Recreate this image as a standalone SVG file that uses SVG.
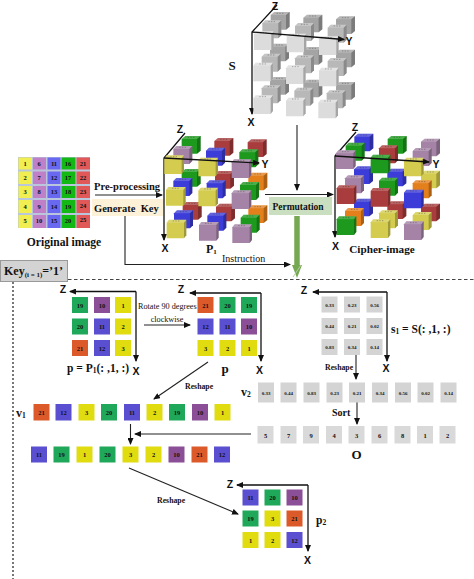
<svg xmlns="http://www.w3.org/2000/svg" width="474" height="579" viewBox="0 0 474 579">
<style>
text{font-family:"Liberation Serif","Times New Roman",serif;fill:#111}
.b{font-weight:bold}
.l{font-weight:bold;font-size:11.5px}
.c{font-weight:bold;font-size:6.5px;text-anchor:middle}
.s{font-weight:bold;font-size:5px;text-anchor:middle}
.a{font-family:"Liberation Sans",Arial,sans-serif;font-size:10.5px;font-weight:bold;text-anchor:middle;fill:#111}
.ln{fill:none;stroke:#222;stroke-width:1.1}
.ax{fill:none;stroke:#111;stroke-width:1.3}
.d{stroke:#222;stroke-width:2.5;stroke-dasharray:4 4;opacity:.4;fill:none}
.yc{fill:#d4cc4e}.pc{fill:#a483a6}.bc{fill:#3c3cd8}.gc{fill:#1d9a1d}.rc{fill:#a93c3c}.oc{fill:#e4801c}
.g0{fill:#dcdcdc}.g1{fill:#b8b8b8}.g2{fill:#a4a4a4}
.Y{fill:#e0dc10}.P{fill:#8a4f96}.B{fill:#5a4fd0}.G{fill:#1fa859}.O{fill:#dc5a2a}.S{fill:#d4d4d4}.T{fill:#d9d9d9}
.oy{fill:#f0ee50}.op{fill:#c080c8}.ob{fill:#6868f0}.og{fill:#14b814}.or{fill:#e05858}
</style>
<defs>
<g id="c0">
<polygon points="0,0 7,-9 59,-9 59,38 52,47 0,47"/>
<polygon points="0,0 7,-9 59,-9 52,0" fill="#fff" opacity=".2"/>
<polygon points="52,0 59,-9 59,38 52,47" fill="#000" opacity=".25"/>
<path class="d" d="M18,-5h20"/>
</g>
<g id="c1">
<polygon points="0,0 9,-9 57,-9 57,36 48,45 0,45"/>
<polygon points="0,0 9,-9 57,-9 48,0" fill="#fff" opacity=".2"/>
<polygon points="48,0 57,-9 57,36 48,45" fill="#000" opacity=".25"/>
<path class="d" d="M18,-5h20"/>
</g>
<g id="c2">
<polygon points="0,0 11,-9 57,-9 57,35 46,44 0,44"/>
<polygon points="0,0 11,-9 57,-9 46,0" fill="#fff" opacity=".2"/>
<polygon points="46,0 57,-9 57,35 46,44" fill="#000" opacity=".25"/>
<path class="d" d="M18,-5h20"/>
</g>
<marker id="m" markerWidth="7" markerHeight="6" refX="6" refY="3" orient="auto" markerUnits="userSpaceOnUse"><path d="M0,0L7,3L0,6z" fill="#111"/></marker>
</defs>

<g id="original-image">
<rect x="18" y="157" width="72" height="71" fill="#b9c6dc"/>
<rect class="oy" x="18.5" y="157.500" width="13.500" height="12"/><rect class="op" x="33" y="157.500" width="13" height="12"/><rect class="ob" x="47.500" y="157.500" width="13" height="12"/><rect class="og" x="61.500" y="157.500" width="14" height="12"/><rect class="or" x="76.500" y="157.500" width="13.500" height="12"/>
<rect class="oy" x="18.5" y="171.500" width="13.500" height="12.500"/><rect class="op" x="33" y="171.500" width="13" height="12.500"/><rect class="ob" x="47.500" y="171.500" width="13" height="12.500"/><rect class="og" x="61.500" y="171.500" width="14" height="12.500"/><rect class="or" x="76.500" y="171.500" width="13.500" height="12.500"/>
<rect class="oy" x="18.5" y="186" width="13.500" height="12"/><rect class="op" x="33" y="186" width="13" height="12"/><rect class="ob" x="47.500" y="186" width="13" height="12"/><rect class="og" x="61.500" y="186" width="14" height="12"/><rect class="or" x="76.500" y="186" width="13.500" height="12"/>
<rect class="oy" x="18.5" y="200" width="13.500" height="13"/><rect class="op" x="33" y="200" width="13" height="13"/><rect class="ob" x="47.500" y="200" width="13" height="13"/><rect class="og" x="61.500" y="200" width="14" height="13"/><rect class="or" x="76.500" y="200" width="13.500" height="13"/>
<rect class="oy" x="18.5" y="215" width="13.500" height="13"/><rect class="op" x="33" y="215" width="13" height="13"/><rect class="ob" x="47.500" y="215" width="13" height="13"/><rect class="og" x="61.500" y="215" width="14" height="13"/><rect class="or" x="76.500" y="215" width="13.500" height="13"/>
<text class="c" x="25" y="166">1</text><text class="c" x="39" y="166">6</text><text class="c" x="54" y="166">11</text><text class="c" x="68" y="166">16</text><text class="c" x="83" y="166">21</text>
<text class="c" x="25" y="180">2</text><text class="c" x="39" y="180">7</text><text class="c" x="54" y="180">12</text><text class="c" x="68" y="180">17</text><text class="c" x="83" y="180">22</text>
<text class="c" x="25" y="194">3</text><text class="c" x="39" y="194">8</text><text class="c" x="54" y="194">13</text><text class="c" x="68" y="194">18</text><text class="c" x="83" y="194">23</text>
<text class="c" x="25" y="209">4</text><text class="c" x="39" y="209">9</text><text class="c" x="54" y="209">14</text><text class="c" x="68" y="209">19</text><text class="c" x="83" y="208">24</text>
<text class="c" x="25" y="223">5</text><text class="c" x="39" y="223">10</text><text class="c" x="54" y="223">15</text><text class="c" x="68" y="223">20</text><text class="c" x="83" y="222">25</text>
<text class="b" x="64" y="246" font-size="11.600" text-anchor="middle">Original image</text>
</g>

<g id="s-cube">
<path class="ax" d="M277,5L252,32V114" marker-end="url(#m)"/>
<g transform="translate(245,0) scale(.3333)">
<use href="#c2" class="g2" x="77" y="45"/><use href="#c2" class="g2" x="175" y="53"/><use href="#c2" class="g2" x="273" y="58"/>
<use href="#c2" class="g2" x="75" y="140"/><use href="#c2" class="g2" x="175" y="150"/><use href="#c2" class="g2" x="273" y="158"/>
<use href="#c2" class="g2" x="75" y="240"/><use href="#c2" class="g2" x="175" y="248"/><use href="#c2" class="g2" x="273" y="255"/>
<use href="#c1" class="g1" x="52" y="70"/><use href="#c1" class="g1" x="150" y="78"/><use href="#c1" class="g1" x="248" y="83"/>
<use href="#c1" class="g1" x="50" y="170"/><use href="#c1" class="g1" x="150" y="175"/><use href="#c1" class="g1" x="248" y="183"/>
<use href="#c1" class="g1" x="50" y="265"/><use href="#c1" class="g1" x="148" y="272"/><use href="#c1" class="g1" x="245" y="280"/>
<use href="#c0" class="g0" x="27" y="103"/><use href="#c0" class="g0" x="125" y="110"/><use href="#c0" class="g0" x="222" y="118"/>
<use href="#c0" class="g0" x="25" y="197"/><use href="#c0" class="g0" x="123" y="205"/><use href="#c0" class="g0" x="222" y="212"/>
<use href="#c0" class="g0" x="25" y="295"/><use href="#c0" class="g0" x="123" y="302"/><use href="#c0" class="g0" x="220" y="308"/>
</g>
<path class="ax" d="M252,32L344,39.500" marker-end="url(#m)"/>
<text class="a" x="275" y="10">Z</text><text class="a" x="349" y="45">Y</text><text class="a" x="251" y="126">X</text>
<text class="b" x="232" y="70" font-size="13" text-anchor="middle">S</text>
</g>

<g id="p1-cube">
<path class="ax" d="M185,133L164,158V240" marker-end="url(#m)"/>
<g transform="translate(155,125) scale(.3333)">
<use href="#c2" class="gc" x="80" y="42"/><use href="#c2" class="rc" x="178" y="48"/><use href="#c2" class="rc" x="278" y="52"/>
<use href="#c2" class="gc" x="80" y="141"/><use href="#c2" class="rc" x="180" y="147"/><use href="#c2" class="oc" x="280" y="152"/>
<use href="#c2" class="rc" x="83" y="240"/><use href="#c2" class="rc" x="183" y="245"/><use href="#c2" class="oc" x="280" y="250"/>
<use href="#c1" class="pc" x="55" y="72"/><use href="#c1" class="bc" x="153" y="77"/><use href="#c1" class="gc" x="253" y="82"/>
<use href="#c1" class="bc" x="55" y="168"/><use href="#c1" class="bc" x="155" y="175"/><use href="#c1" class="gc" x="255" y="180"/>
<use href="#c1" class="bc" x="57" y="265"/><use href="#c1" class="bc" x="157" y="272"/><use href="#c1" class="gc" x="257" y="278"/>
<use href="#c0" class="yc" x="28" y="100"/><use href="#c0" class="yc" x="130" y="107"/><use href="#c0" class="pc" x="230" y="112"/>
<use href="#c0" class="yc" x="33" y="195"/><use href="#c0" class="yc" x="130" y="197"/><use href="#c0" class="pc" x="230" y="205"/>
<use href="#c0" class="yc" x="35" y="293"/><use href="#c0" class="pc" x="132" y="300"/><use href="#c0" class="pc" x="232" y="307"/>
</g>
<path class="ax" d="M164,158L259,163" marker-end="url(#m)"/>
<text class="a" x="180" y="133">Z</text><text class="a" x="265" y="168">Y</text><text class="a" x="165" y="252">X</text>
<text class="b" x="206" y="253" font-size="12">P<tspan font-size="7" dy="1">1</tspan></text>
</g>

<g id="cipher-cube">
<path class="ax" d="M356,132L335,156V237" marker-end="url(#m)"/>
<g transform="translate(330,125) scale(.3333)">
<use href="#c2" class="bc" x="73" y="35"/><use href="#c2" class="gc" x="173" y="42"/><use href="#c2" class="pc" x="273" y="50"/>
<use href="#c2" class="bc" x="72" y="133"/><use href="#c2" class="bc" x="172" y="140"/><use href="#c2" class="yc" x="273" y="146"/>
<use href="#c2" class="bc" x="72" y="230"/><use href="#c2" class="rc" x="172" y="238"/><use href="#c2" class="rc" x="273" y="245"/>
<use href="#c1" class="gc" x="47" y="62"/><use href="#c1" class="rc" x="147" y="70"/><use href="#c1" class="pc" x="248" y="78"/>
<use href="#c1" class="pc" x="45" y="160"/><use href="#c1" class="gc" x="147" y="167"/><use href="#c1" class="oc" x="248" y="175"/>
<use href="#c1" class="oc" x="45" y="258"/><use href="#c1" class="yc" x="147" y="265"/><use href="#c1" class="yc" x="248" y="270"/>
<use href="#c0" class="pc" x="18" y="85"/><use href="#c0" class="gc" x="122" y="98"/><use href="#c0" class="yc" x="222" y="107"/>
<use href="#c0" class="rc" x="20" y="190"/><use href="#c0" class="rc" x="122" y="198"/><use href="#c0" class="bc" x="222" y="203"/>
<use href="#c0" class="gc" x="20" y="283"/><use href="#c0" class="yc" x="122" y="292"/><use href="#c0" class="pc" x="222" y="298"/>
</g>
<path class="ax" d="M335,156L429,162" marker-end="url(#m)"/>
<text class="a" x="355" y="131">Z</text><text class="a" x="436" y="168">Y</text><text class="a" x="335.500" y="250">X</text>
<text class="b" x="382" y="253" font-size="11.200" text-anchor="middle">Cipher-image</text>
</g>

<g id="connectors">
<path class="ln" d="M95,195H162" marker-end="url(#m)"/>
<path class="ln" d="M125,216V264.500H290" marker-end="url(#m)"/>
<path class="ln" d="M297,125V190" marker-end="url(#m)"/>
<path class="ln" d="M265,194.500H333" marker-end="url(#m)"/>
<path d="M297,216V266" stroke="#75a850" stroke-width="5.500" fill="none"/>
<polygon points="292,265 302,265 297,278" fill="#75a850"/>
<path d="M293,277L301,265" stroke="#b5cfa5" fill="none"/>
<path d="M68,279.500H474" stroke="#444" stroke-width="1" stroke-dasharray="3.500 2.500" fill="none"/>
<path d="M13,282V579" stroke="#777" stroke-width="2" stroke-dasharray="2 2" fill="none"/>
<path class="ln" d="M144,325H190" marker-end="url(#m)"/>
<path class="ln" d="M208,362L154,399" marker-end="url(#m)"/>
<path class="ln" d="M356,355V379" marker-end="url(#m)"/>
<path class="ln" d="M357,402V424" marker-end="url(#m)"/>
<path class="ln" d="M251,434H135" marker-end="url(#m)"/>
<path class="ln" d="M130.500,424V444" marker-end="url(#m)"/>
<path class="ln" d="M129,468L238,514" marker-end="url(#m)"/>
</g>

<g id="pre-processing"><text class="b" x="94" y="190" font-size="10.500">Pre-processing</text></g>
<g id="generate-key"><rect x="92" y="199" width="71" height="17" fill="#fdf2d8"/><text class="b" x="94" y="211.500" font-size="10.500" xml:space="preserve">Generate  Key</text></g>
<g id="permutation"><rect x="269" y="197" width="63" height="18" fill="#c9dfc0"/><text class="b" x="298" y="209.500" font-size="9.500" text-anchor="middle">Permutation</text></g>
<g id="instruction"><text x="222" y="262" font-size="10">Instruction</text></g>
<g id="key"><rect x="0.500" y="260.500" width="67" height="21" fill="#d3d3d3" stroke="#999"/><text class="b" x="4" y="275" font-size="12">Key<tspan font-size="7" dy="2">(i = 1)</tspan><tspan dy="-2">=’1’</tspan></text></g>

<g id="matrix-p">
<path class="ax" d="M136,291.500V361" marker-end="url(#m)"/><path class="ax" d="M136,291.500H70" marker-end="url(#m)"/>
<rect class="G" x="72" y="297" width="16" height="16"/><rect class="P" x="94" y="297" width="16" height="16"/><rect class="Y" x="115" y="297" width="16" height="16"/>
<rect class="G" x="72" y="318.500" width="16" height="16"/><rect class="B" x="94" y="318.500" width="16" height="16"/><rect class="Y" x="115" y="318.500" width="16" height="16"/>
<rect class="O" x="72" y="340" width="16" height="16"/><rect class="B" x="94" y="340" width="16" height="16"/><rect class="Y" x="115" y="340" width="16" height="16"/>
<text class="c" x="80" y="307.500">19</text><text class="c" x="102" y="307.500">10</text><text class="c" x="123" y="307.500">1</text>
<text class="c" x="80" y="329">20</text><text class="c" x="102" y="329">11</text><text class="c" x="123" y="329">2</text>
<text class="c" x="80" y="350.500">21</text><text class="c" x="102" y="350.500">12</text><text class="c" x="123" y="350.500">3</text>
<text class="a" x="63" y="293">Z</text><text class="a" x="136" y="375">X</text>
<text class="l" x="67" y="372">p = P<tspan font-size="7.500" dy="1">1</tspan><tspan dy="-1">(: ,1, :)</tspan></text>
</g>

<g id="rotate-label"><text x="138" y="308.500" font-size="8.200">Rotate 90 degrees</text><text x="167" y="321.500" font-size="8.200" text-anchor="middle">clockwise</text></g>

<g id="matrix-p-rotated">
<path class="ax" d="M261,293V361" marker-end="url(#m)"/><path class="ax" d="M261,293H190" marker-end="url(#m)"/>
<rect class="O" x="197.500" y="297" width="16" height="16"/><rect class="G" x="219.500" y="297" width="16" height="16"/><rect class="G" x="241" y="297" width="16" height="16"/>
<rect class="B" x="197.500" y="318.500" width="16" height="16"/><rect class="B" x="219.500" y="318.500" width="16" height="16"/><rect class="P" x="241" y="318.500" width="16" height="16"/>
<rect class="Y" x="197.500" y="340" width="16" height="16"/><rect class="Y" x="219.500" y="340" width="16" height="16"/><rect class="Y" x="241" y="340" width="16" height="16"/>
<text class="c" x="205.500" y="307.500">21</text><text class="c" x="227.500" y="307.500">20</text><text class="c" x="249" y="307.500">19</text>
<text class="c" x="205.500" y="329">12</text><text class="c" x="227.500" y="329">11</text><text class="c" x="249" y="329">10</text>
<text class="c" x="205.500" y="350.500">3</text><text class="c" x="227.500" y="350.500">2</text><text class="c" x="249" y="350.500">1</text>
<text class="a" x="181" y="293">Z</text><text class="a" x="259.500" y="374">X</text>
<text class="b" x="225" y="373" text-anchor="middle" font-size="13">p</text>
</g>

<g id="matrix-s1">
<path class="ax" d="M387,292V361" marker-end="url(#m)"/><path class="ax" d="M387,292H313" marker-end="url(#m)"/>
<rect class="S" x="321.500" y="296.500" width="16" height="16"/><rect class="S" x="344" y="296.500" width="16" height="16"/><rect class="S" x="366.500" y="296.500" width="16" height="16"/>
<rect class="S" x="321.500" y="318" width="16" height="16"/><rect class="S" x="344" y="318" width="16" height="16"/><rect class="S" x="366.500" y="318" width="16" height="16"/>
<rect class="S" x="321.500" y="339" width="16" height="16"/><rect class="S" x="344" y="339" width="16" height="16"/><rect class="S" x="366.500" y="339" width="16" height="16"/>
<text class="s" x="329.500" y="306.500">0.33</text><text class="s" x="352" y="306.500">0.23</text><text class="s" x="374.500" y="306.500">0.56</text>
<text class="s" x="329.500" y="328">0.44</text><text class="s" x="352" y="328">0.21</text><text class="s" x="374.500" y="328">0.02</text>
<text class="s" x="329.500" y="349">0.83</text><text class="s" x="352" y="349">0.34</text><text class="s" x="374.500" y="349">0.14</text>
<text class="a" x="304" y="294">Z</text><text class="a" x="386" y="372">X</text>
<text class="l" x="391" y="333">s<tspan font-size="7.500" dy="1">1</tspan><tspan dy="-1"> = S(: ,1, :)</tspan></text>
</g>

<g id="reshape-labels">
<text class="b" x="185" y="389" font-size="7.800">Reshape</text>
<text class="b" x="325" y="370" font-size="7.800">Reshape</text>
<text class="b" x="157" y="503" font-size="7.800">Reshape</text>
<text class="b" x="332" y="416" font-size="10">Sort</text>
</g>

<g id="vector-v2">
<text class="b" x="241" y="396" font-size="12">v<tspan font-size="7.500" dy="1">2</tspan></text>
<rect class="S" x="258" y="382.500" width="16" height="20"/><rect class="S" x="280.500" y="382.500" width="16" height="20"/><rect class="S" x="303.500" y="382.500" width="16" height="20"/><rect class="S" x="326.500" y="382.500" width="16" height="20"/><rect class="S" x="349" y="382.500" width="16" height="20"/><rect class="S" x="372" y="382.500" width="16" height="20"/><rect class="S" x="395" y="382.500" width="16" height="20"/><rect class="S" x="417.500" y="382.500" width="16" height="20"/><rect class="S" x="440.500" y="382.500" width="16" height="20"/>
<text class="s" x="266" y="394.500">0.33</text><text class="s" x="288.500" y="394.500">0.44</text><text class="s" x="311.500" y="394.500">0.83</text><text class="s" x="334.500" y="394.500">0.23</text><text class="s" x="357" y="394.500">0.21</text><text class="s" x="380" y="394.500">0.34</text><text class="s" x="403" y="394.500">0.56</text><text class="s" x="425.500" y="394.500">0.02</text><text class="s" x="448.500" y="394.500">0.14</text>
</g>

<g id="vector-o">
<rect class="T" x="257.500" y="426" width="16" height="17.500"/><rect class="T" x="280.500" y="426" width="16" height="17.500"/><rect class="T" x="303" y="426" width="16" height="17.500"/><rect class="T" x="326" y="426" width="16" height="17.500"/><rect class="T" x="348.500" y="426" width="16" height="17.500"/><rect class="T" x="371.500" y="426" width="16" height="17.500"/><rect class="T" x="394.500" y="426" width="16" height="17.500"/><rect class="T" x="417" y="426" width="16" height="17.500"/><rect class="T" x="439.500" y="426" width="16" height="17.500"/>
<text class="c" x="265.500" y="437.500">5</text><text class="c" x="288.500" y="437.500">7</text><text class="c" x="311" y="437.500">9</text><text class="c" x="334" y="437.500">4</text><text class="c" x="356.500" y="437.500">3</text><text class="c" x="379.500" y="437.500">6</text><text class="c" x="402.500" y="437.500">8</text><text class="c" x="425" y="437.500">1</text><text class="c" x="447.500" y="437.500">2</text>
<text class="b" x="356.500" y="459" font-size="13" text-anchor="middle">O</text>
</g>

<g id="vector-v1">
<text class="b" x="16" y="417" font-size="12">v<tspan font-size="7.500" dy="1">1</tspan></text>
<rect class="O" x="33.500" y="404" width="16" height="16.500"/><rect class="B" x="55.500" y="404" width="16" height="16.500"/><rect class="Y" x="78.500" y="404" width="16" height="16.500"/><rect class="G" x="101" y="404" width="16" height="16.500"/><rect class="B" x="124" y="404" width="16" height="16.500"/><rect class="Y" x="146.500" y="404" width="16" height="16.500"/><rect class="G" x="169" y="404" width="16" height="16.500"/><rect class="P" x="192" y="404" width="16" height="16.500"/><rect class="Y" x="214.500" y="404" width="16" height="16.500"/>
<text class="c" x="41.500" y="414.500">21</text><text class="c" x="63.500" y="414.500">12</text><text class="c" x="86.500" y="414.500">3</text><text class="c" x="109" y="414.500">20</text><text class="c" x="132" y="414.500">11</text><text class="c" x="154.500" y="414.500">2</text><text class="c" x="177" y="414.500">19</text><text class="c" x="200" y="414.500">10</text><text class="c" x="222.500" y="414.500">1</text>
</g>

<g id="vector-sorted">
<rect class="B" x="31" y="446.500" width="16" height="16"/><rect class="G" x="53.500" y="446.500" width="16" height="16"/><rect class="Y" x="76.500" y="446.500" width="16" height="16"/><rect class="G" x="99.500" y="446.500" width="16" height="16"/><rect class="Y" x="122.500" y="446.500" width="16" height="16"/><rect class="Y" x="145.500" y="446.500" width="16" height="16"/><rect class="P" x="168.500" y="446.500" width="16" height="16"/><rect class="O" x="191.500" y="446.500" width="16" height="16"/><rect class="B" x="214" y="446.500" width="16" height="16"/>
<text class="c" x="39" y="457">11</text><text class="c" x="61.500" y="457">19</text><text class="c" x="84.500" y="457">1</text><text class="c" x="107.500" y="457">20</text><text class="c" x="130.500" y="457">3</text><text class="c" x="153.500" y="457">2</text><text class="c" x="176.500" y="457">10</text><text class="c" x="199.500" y="457">21</text><text class="c" x="222" y="457">12</text>
</g>

<g id="matrix-p2">
<path class="ax" d="M308,485V551" marker-end="url(#m)"/><path class="ax" d="M308,485H237" marker-end="url(#m)"/>
<rect class="B" x="242.500" y="489.500" width="16" height="16"/><rect class="G" x="264.500" y="489.500" width="16" height="16"/><rect class="P" x="286.500" y="489.500" width="16" height="16"/>
<rect class="G" x="242.500" y="510.500" width="16" height="16"/><rect class="Y" x="264.500" y="510.500" width="16" height="16"/><rect class="O" x="286.500" y="510.500" width="16" height="16"/>
<rect class="Y" x="242.500" y="532" width="16" height="16"/><rect class="Y" x="264.500" y="532" width="16" height="16"/><rect class="B" x="286.500" y="532" width="16" height="16"/>
<text class="c" x="250.500" y="500">11</text><text class="c" x="272.500" y="500">20</text><text class="c" x="294.500" y="500">10</text>
<text class="c" x="250.500" y="521">19</text><text class="c" x="272.500" y="521">3</text><text class="c" x="294.500" y="521">21</text>
<text class="c" x="250.500" y="542.500">1</text><text class="c" x="272.500" y="542.500">2</text><text class="c" x="294.500" y="542.500">12</text>
<text class="a" x="230" y="488">Z</text><text class="a" x="307.500" y="564">X</text>
<text class="l" x="316" y="524">p<tspan font-size="7.500" dy="1">2</tspan></text>
</g>
</svg>
